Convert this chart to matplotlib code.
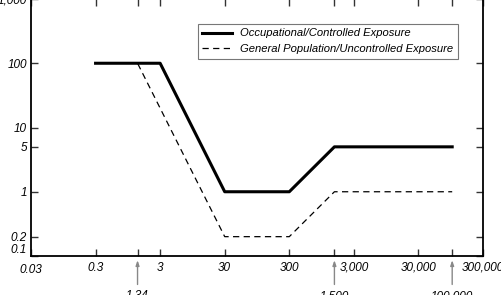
import numpy as np
import matplotlib
matplotlib.use("Agg")
import matplotlib.pyplot as plt
import matplotlib.transforms as mtransforms
from matplotlib.ticker import FixedLocator, NullLocator

plt.rcParams['font.family'] = ['Liberation Sans', 'DejaVu Sans']
plt.rcParams['font.style'] = 'italic'

# MPE limits, frequency in MHz vs power density in mW/cm^2
occ_f = [0.3, 3, 30, 300, 1500, 100000]
occ_s = [100, 100, 1, 1, 5, 5]
gen_f = [0.3, 1.34, 30, 300, 1500, 100000]
gen_s = [100, 100, 0.2, 0.2, 1, 1]

x_ticks = [0.03, 0.3, 1.34, 3, 30, 300, 1500, 3000, 30000, 100000, 300000]
x_labels = ['0.03', '0.3', '', '3', '30', '300', '', '3,000', '30,000', '', '300,000']
y_ticks = [0.1, 0.2, 1, 5, 10, 100, 1000]
y_labels = ['0.1', '0.2', '1', '5', '10', '100', '1,000']
marked_f = [1.34, 1500, 100000]
marked_labels = ['1.34', '1,500', '100,000']

fig = plt.figure(figsize=(5.01, 2.95), dpi=100)
ax = fig.add_axes([31/501, 39/295, 452/501, 257/295])

ax.plot(occ_f, occ_s, color='k', lw=2.2, label='Occupational/Controlled Exposure')
ax.plot(gen_f, gen_s, color='k', lw=0.9, linestyle=(0, (5, 3.5)),
        label='General Population/Uncontrolled Exposure')

ax.set_xscale('log')
ax.set_yscale('log')
ax.set_xlim(0.03, 300000)
ax.set_ylim(0.1, 1000)

ax.xaxis.set_major_locator(FixedLocator(x_ticks))
ax.xaxis.set_minor_locator(NullLocator())
ax.set_xticklabels(x_labels)
ax.yaxis.set_major_locator(FixedLocator(y_ticks))
ax.yaxis.set_minor_locator(NullLocator())
ax.set_yticklabels(y_labels)

ax.tick_params(axis='both', direction='in', length=5, width=1, labelsize=8.5,
               top=True, right=True, color='#333333')
ax.tick_params(axis='x', pad=4)
ax.tick_params(axis='y', pad=3)
for s in ax.spines.values():
    s.set_linewidth(1.3)

# corner labels nudged like in the original
ax.get_yticklabels()[0].set_verticalalignment('bottom')
xl0 = ax.get_xticklabels()[0]
xl0.set_transform(xl0.get_transform() +
                  mtransforms.ScaledTranslation(0, -2/72, fig.dpi_scale_trans))

# arrows pointing to the breakpoints below the axis
for f, lab in zip(marked_f, marked_labels):
    ax.annotate(lab, xy=(f, 0), xycoords=ax.get_xaxis_transform(),
                xytext=(0, -24.5), textcoords='offset points',
                ha='center', va='top', fontsize=8.5,
                arrowprops=dict(arrowstyle='-|>,head_length=0.35,head_width=0.12',
                                color='#888888', lw=1, shrinkA=2, shrinkB=3))

leg = ax.legend(loc='upper right', bbox_to_anchor=(427/452, 1 - 25/257),
                borderaxespad=0, fontsize=8.1, frameon=True, fancybox=False,
                edgecolor='#555555', handlelength=2.7, handletextpad=0.7,
                borderpad=0.4, labelspacing=0.5)
leg.get_frame().set_linewidth(0.8)

fig.savefig('out.png', dpi=100)
